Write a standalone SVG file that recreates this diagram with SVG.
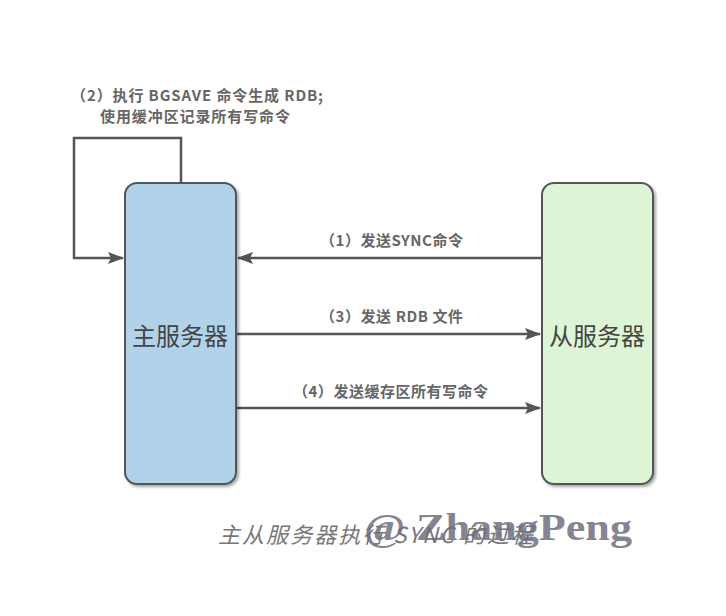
<svg xmlns="http://www.w3.org/2000/svg" width="726" height="616" viewBox="0 0 726 616">
<defs>
<marker id="arr" markerWidth="16" markerHeight="12" refX="15" refY="6" orient="auto" markerUnits="userSpaceOnUse">
<path d="M0,0 L16,6 L0,12 L3,6 Z" fill="#555"/>
</marker>
<filter id="sh" x="-10%" y="-10%" width="130%" height="130%">
<feGaussianBlur in="SourceAlpha" stdDeviation="1.5"/>
<feOffset dx="2" dy="2"/>
<feComponentTransfer><feFuncA type="linear" slope="0.35"/></feComponentTransfer>
<feMerge><feMergeNode/><feMergeNode in="SourceGraphic"/></feMerge>
</filter>
</defs>
<style>
.lbl{font-family:"Noto Sans CJK SC","Noto Sans",sans-serif;font-weight:bold;font-size:15px;fill:#666}
.node{font-family:"Noto Sans CJK SC","Noto Sans",sans-serif;font-size:24px;fill:#444}
.box{stroke:#555;stroke-width:2}
.edge{fill:none;stroke:#555;stroke-width:2.5}
</style>
<rect width="726" height="616" fill="#fff"/>
<g id="edges">
<polyline class="edge" points="181,183 181,138 74,138 74,258 123,258" marker-end="url(#arr)"/>
<line class="edge" x1="542" y1="258" x2="238" y2="258" marker-end="url(#arr)"/>
<line class="edge" x1="236" y1="334" x2="540" y2="334" marker-end="url(#arr)"/>
<line class="edge" x1="236" y1="408" x2="540" y2="408" marker-end="url(#arr)"/>
</g>
<g id="master">
<rect class="box" x="125" y="183" width="111" height="301" rx="12" fill="#b1d3ea" filter="url(#sh)"/>
<text class="node" x="180" y="345" text-anchor="middle">主服务器</text>
</g>
<g id="slave">
<rect class="box" x="542" y="183" width="111" height="301" rx="12" fill="#dcf5d4" filter="url(#sh)"/>
<text class="node" x="597" y="345" text-anchor="middle">从服务器</text>
</g>
<g id="labels">
<text class="lbl" x="71" y="101" textLength="252" lengthAdjust="spacing">（2）执行 BGSAVE 命令生成 RDB;</text>
<text class="lbl" x="100" y="122" textLength="190" lengthAdjust="spacing">使用缓冲区记录所有写命令</text>
<text class="lbl" x="320" y="246" textLength="143" lengthAdjust="spacing">（1）发送SYNC命令</text>
<text class="lbl" x="320" y="322" textLength="143" lengthAdjust="spacing">（3）发送 RDB 文件</text>
<text class="lbl" x="293" y="397" textLength="195" lengthAdjust="spacing">（4）发送缓存区所有写命令</text>
</g>
<text x="218" y="543" font-family="Noto Sans CJK SC, sans-serif" font-size="22" font-style="italic" fill="#777" textLength="315" lengthAdjust="spacing">主从服务器执行 SYNC 的过程</text>
<text x="364" y="540" font-family="Liberation Serif, serif" font-weight="bold" font-size="38" fill="#6e6e80" fill-opacity="0.85" textLength="268" lengthAdjust="spacingAndGlyphs">@ ZhangPeng</text>
</svg>
